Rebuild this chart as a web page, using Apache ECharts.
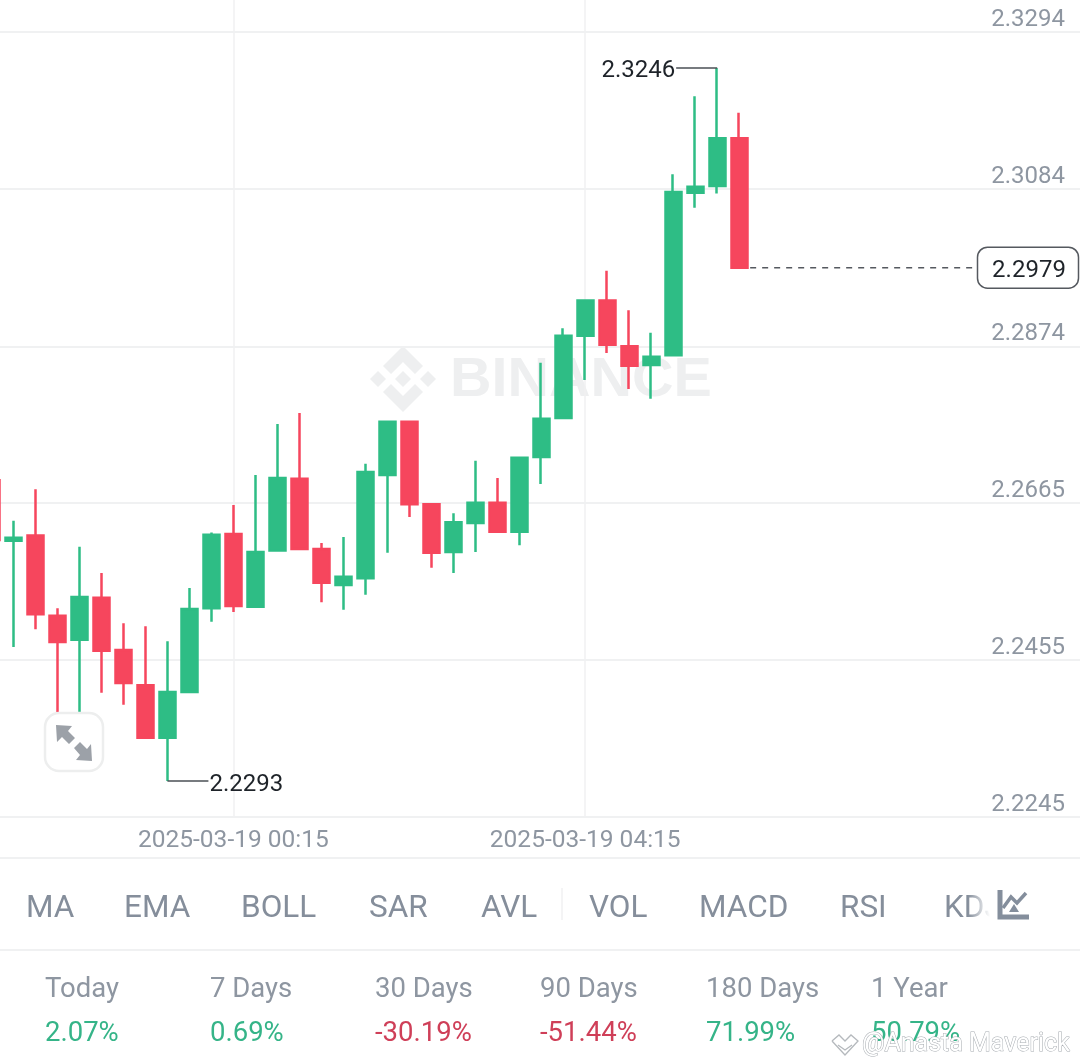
<!DOCTYPE html>
<html><head><meta charset="utf-8">
<style>html,body{margin:0;padding:0;background:#fff}#c{width:1080px;height:1064px}</style>
<script src="https://cdn.jsdelivr.net/npm/echarts@6/dist/echarts.min.js"></script>
</head><body><div id="c"></div>
<script>
const categories = [
'2025-03-18 21:30','2025-03-18 21:45','2025-03-18 22:00','2025-03-18 22:15','2025-03-18 22:30','2025-03-18 22:45','2025-03-18 23:00','2025-03-18 23:15','2025-03-18 23:30','2025-03-18 23:45',
'2025-03-19 00:00','2025-03-19 00:15','2025-03-19 00:30','2025-03-19 00:45','2025-03-19 01:00','2025-03-19 01:15','2025-03-19 01:30','2025-03-19 01:45','2025-03-19 02:00','2025-03-19 02:15',
'2025-03-19 02:30','2025-03-19 02:45','2025-03-19 03:00','2025-03-19 03:15','2025-03-19 03:30','2025-03-19 03:45','2025-03-19 04:00','2025-03-19 04:15','2025-03-19 04:30','2025-03-19 04:45',
'2025-03-19 05:00','2025-03-19 05:15','2025-03-19 05:30','2025-03-19 05:45','2025-03-19 06:00','2025-03-19 06:15','2025-03-19 06:30','2025-03-19 06:45','2025-03-19 07:00','2025-03-19 07:15',
'2025-03-19 07:30','2025-03-19 07:45','2025-03-19 08:00','2025-03-19 08:15','2025-03-19 08:30','2025-03-19 08:45','2025-03-19 09:00','2025-03-19 09:15','2025-03-19 09:30','2025-03-19 09:45'];
const opens  = [2.2695,2.2614,2.2621,2.2514,2.2482,2.2538,2.2468,2.2421,2.2351,2.2412,2.2524,2.2623,2.2526,2.2601,2.2697,2.2603,2.2555,2.2564,2.2702,2.2773,2.2663,2.2599,2.2638,2.2665,2.2626,2.2726,2.2778,2.2888,2.2935,2.2874,2.2849,2.2862,2.3079,2.3088,2.3152];
const closes = [2.2615,2.2618,2.2516,2.2479,2.2539,2.2467,2.2424,2.2351,2.2412,2.2523,2.2622,2.2527,2.2599,2.2698,2.2603,2.2558,2.2566,2.2706,2.2773,2.2663,2.2598,2.2639,2.2665,2.2626,2.2725,2.2777,2.2888,2.2935,2.2876,2.2848,2.2860,2.3080,2.3087,2.3152,2.2979];
const lows   = [2.2615,2.2472,2.2496,2.2385,2.2385,2.2411,2.2395,2.2351,2.2293,2.2411,2.2506,2.2519,2.2526,2.2600,2.2603,2.2532,2.2522,2.2542,2.2598,2.2646,2.2578,2.2571,2.2599,2.2625,2.2608,2.2690,2.2778,2.2829,2.2865,2.2817,2.2804,2.2862,2.3059,2.3078,2.2979];
const highs  = [2.2695,2.2641,2.2683,2.2524,2.2606,2.2571,2.2504,2.2500,2.2480,2.2551,2.2625,2.2662,2.2702,2.2770,2.2785,2.2611,2.2619,2.2717,2.2773,2.2773,2.2663,2.2651,2.2721,2.2698,2.2725,2.2852,2.2898,2.2937,2.2975,2.2922,2.2892,2.3104,2.3208,2.3246,2.3186];
const priceTicks = ['2.2245','2.2455','2.2665','2.2874','2.3084','2.3294'];
const timeTicks = ['2025-03-19 00:15','2025-03-19 04:15'];
const axisMin = 2.2245, axisMax = 2.33367;
const highIndex = 33, highPrice = 2.3246;
const lowIndex = 8, lowPrice = 2.2293;
const lastIndex = 34, lastPrice = 2.2979;
const indicators = ['MA','EMA','BOLL','SAR','AVL','VOL','MACD','RSI','KDJ'];
const indicatorX = [26,124,241,369,481,589,699,840,944];
const periods = ['Today','7 Days','30 Days','90 Days','180 Days','1 Year'];
const periodValues = ['2.07%','0.69%','-30.19%','-51.44%','71.99%','50.79%'];
const periodX = [45,210,375,540,706,871];

const UP='#2EBD85', DOWN='#F6465D', FONT='Roboto, sans-serif', GREY='#8E96A1', LINE='#F0F1F2', MARK='#EEEFF0', DARK='#1E2329';
const candles = opens.map((o,i)=>[o,closes[i],lows[i],highs[i]]);
const isTime = (i,v)=>timeTicks.includes(v);

function poly(points,fill,z){return {type:'polygon',z:z,silent:true,shape:{points},style:{fill}};}
function offs(cx,cy,pts){return pts.map(p=>[cx+p[0],cy+p[1]]);}

const g = [];
// watermark logo
const lx=403, ly=379;
[[[0,-33],[20,-13],[12,-5],[0,-17],[-12,-5],[-20,-13]],
 [[0,33],[20,13],[12,5],[0,17],[-12,5],[-20,13]],
 [[-33,0],[-25,-8],[-17,0],[-25,8]],[[33,0],[25,-8],[17,0],[25,8]],
 [[0,-8],[8,0],[0,8],[-8,0]]].forEach(p=>g.push(poly(offs(lx,ly,p),MARK,-5)));
g.push({type:'text',z:-5,silent:true,x:450,y:381,scaleX:1.045,style:{text:'BINANCE',fill:MARK,font:'700 55px "Liberation Sans", sans-serif',textAlign:'left',textVerticalAlign:'middle'}});
// footer rules
[858,950].forEach(y=>g.push({type:'line',z:1,silent:true,shape:{x1:0,y1:y,x2:1080,y2:y},style:{stroke:LINE,lineWidth:2}}));
g.push({type:'line',z:1,silent:true,shape:{x1:562,y1:888,x2:562,y2:920},style:{stroke:LINE,lineWidth:1.5}});
// indicator tabs
indicators.forEach((t,i)=>g.push({type:'text',z:5,silent:true,x:indicatorX[i],y:909,style:{text:t,fill:'#858E9B',font:'400 31.5px '+FONT,textAlign:'left',textVerticalAlign:'middle'}}));
g.push({type:'rect',z:6,silent:true,shape:{x:968,y:885,width:34,height:46},style:{fill:{type:'linear',x:0,y:0,x2:1,y2:0,colorStops:[{offset:0,color:'rgba(255,255,255,0)'},{offset:0.65,color:'#fff'},{offset:1,color:'#fff'}]}}});
// chart icon
g.push({type:'polyline',z:7,silent:true,shape:{points:[[1000,890],[1000,917],[1029,917]]},style:{stroke:'#848E9C',lineWidth:5,fill:null}});
g.push({type:'polyline',z:7,silent:true,shape:{points:[[1003,908],[1011,897],[1017,903],[1026,893]]},style:{stroke:'#848E9C',lineWidth:3.5,fill:null}});
g.push(poly([[1009,912],[1014,904],[1019,912]],'#848E9C',7));
// period table
periods.forEach((t,i)=>{
  g.push({type:'text',z:5,silent:true,x:periodX[i],y:990,style:{text:t,fill:GREY,font:'400 27.5px '+FONT,textAlign:'left',textVerticalAlign:'middle'}});
  g.push({type:'text',z:5,silent:true,x:periodX[i],y:1034,style:{text:periodValues[i],fill:periodValues[i][0]==='-'?'#CF3F58':'#35B488',font:'400 27.5px '+FONT,textAlign:'left',textVerticalAlign:'middle'}});
});
// expand button
g.push({type:'rect',z:20,silent:true,shape:{x:45,y:713,width:58,height:58,r:14},style:{fill:'#fff',stroke:'#EDEEEE',lineWidth:2.5}});
g.push(poly([[56,725],[72,726],[68,731],[75,738],[69,744],[62,737],[57,742]],'#9CA1A8',21));
g.push(poly([[92,761],[76,760],[80,755],[74,748],[80,742],[87,749],[91,744]],'#9CA1A8',21));
// social watermark
g.push({type:'polyline',z:30,silent:true,shape:{points:[[832,1041],[845,1055],[858,1041],[851,1035],[845,1041],[839,1035],[832,1041]]},style:{stroke:'#B5B9BD',lineWidth:1.3,fill:null}});
g.push({type:'polyline',z:30,silent:true,shape:{points:[[838,1045],[845,1050],[852,1045]]},style:{stroke:'#B5B9BD',lineWidth:1.3,fill:null}});
g.push({type:'text',z:30,silent:true,x:862,y:1045,style:{text:'@Anasta Maverick',fill:'#fff',stroke:'#A6ABB0',lineWidth:1,font:'400 25px '+FONT,textAlign:'left',textVerticalAlign:'middle'}});

const annotations = [
  {kind:'high',idx:highIndex,price:highPrice},
  {kind:'low',idx:lowIndex,price:lowPrice},
  {kind:'last',idx:lastIndex,price:lastPrice}
];
function renderNote(params,api){
  const a=annotations[params.dataIndex];
  const p=api.coord([api.value(0),api.value(1)]);
  const label=a.price.toFixed(4), font='400 24px '+FONT;
  const st={stroke:'#4A4F55',lineWidth:1.5};
  if(a.kind==='high') return {type:'group',children:[
    {type:'line',shape:{x1:p[0],y1:p[1],x2:p[0]-41,y2:p[1]},style:st},
    {type:'text',x:p[0]-42,y:p[1]+3,style:{text:label,fill:DARK,font,textAlign:'right',textVerticalAlign:'middle'}}]};
  if(a.kind==='low') return {type:'group',children:[
    {type:'line',shape:{x1:p[0],y1:p[1],x2:p[0]+41,y2:p[1]},style:st},
    {type:'text',x:p[0]+42,y:p[1]+4,style:{text:label,fill:DARK,font,textAlign:'left',textVerticalAlign:'middle'}}]};
  return {type:'group',children:[
    {type:'line',shape:{x1:p[0]+11,y1:p[1],x2:975,y2:p[1]},style:{stroke:'#55595F',lineWidth:1.4,lineDash:[6,6]}},
    {type:'rect',shape:{x:977.5,y:p[1]-20.5,width:101,height:41,r:10},style:{fill:'#fff',stroke:'#55595F',lineWidth:1.5}},
    {type:'text',x:1029,y:p[1]+3,style:{text:label,fill:DARK,font,textAlign:'center',textVerticalAlign:'middle'}}]};
}

const chart=echarts.init(document.getElementById('c'),null,{renderer:'canvas'});
chart.setOption({
  animation:false,backgroundColor:'#fff',
  grid:{left:-19.5,right:0,top:0,bottom:247,outerBoundsMode:'none'},
  xAxis:{type:'category',data:categories,boundaryGap:true,
    axisLine:{show:true,lineStyle:{color:LINE,width:2}},axisTick:{show:false},
    axisLabel:{interval:isTime,color:GREY,fontFamily:FONT,fontSize:24.5,margin:11},
    splitLine:{show:true,interval:isTime,alignWithLabel:true,lineStyle:{color:LINE,width:1.5}}},
  yAxis:{type:'value',position:'right',min:axisMin,max:axisMax,scale:true,
    axisLine:{show:false},
    axisTick:{show:false,customValues:priceTicks.map(Number)},
    axisLabel:{inside:true,margin:15,color:GREY,fontFamily:FONT,fontSize:24,verticalAlign:'bottom',padding:[0,0,0,0],
      customValues:priceTicks.map(Number),formatter:v=>Number(v).toFixed(4)},
    splitLine:{show:true,lineStyle:{color:LINE,width:2}}},
  series:[
    {type:'candlestick',data:candles,barWidth:16.5,z:5,
      itemStyle:{color:UP,color0:DOWN,borderColor:UP,borderColor0:DOWN,borderWidth:2.5}},
    {type:'custom',z:6,clip:false,silent:true,encode:{x:0,y:1},
      data:annotations.map(a=>[a.idx,a.price]),renderItem:renderNote}
  ],
  graphic:{elements:g}
});
</script></body></html>
